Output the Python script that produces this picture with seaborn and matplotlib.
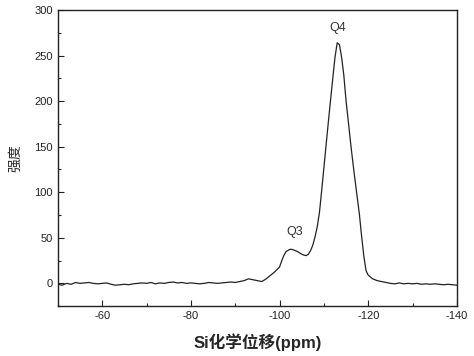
import matplotlib
matplotlib.use("Agg")
import matplotlib.pyplot as plt
import seaborn as sns
import pandas as pd
import numpy as np
from matplotlib.ticker import MultipleLocator

# chemical shift (ppm) and intensity
shift = [-50, -51, -52, -53, -54, -55, -56, -57, -58, -59,
         -60, -61, -62, -63, -64, -65, -66, -67, -68, -69,
         -70, -71, -72, -73, -74, -75, -76, -77, -78, -79,
         -80, -81, -82, -83, -84, -85, -86, -87, -88, -89,
         -90, -91, -92, -93, -94, -95, -96, -97, -98, -99,
         -100, -100.5, -101, -101.5, -102, -102.5, -103, -103.5, -104, -104.5,
         -105, -105.5, -106, -106.5, -107, -107.5, -108, -108.5, -109, -109.5,
         -110, -110.5, -111, -111.5, -112, -112.5, -113, -113.5, -114, -114.5,
         -115, -115.5, -116, -116.5, -117, -117.5, -118, -118.5, -119, -119.5,
         -120, -121, -122, -123, -124, -125, -126, -127, -128, -129,
         -130, -131, -132, -133, -134, -135, -136, -137, -138, -139, -140]
intensity = [-1, -2, 0, -1, 1, 0, 0.5, 1, 0, -0.5,
             0, 0.5, -1, -2, -1.5, -1, -1.5, -0.5, 0, 0.5,
             0, 1, -0.5, 0.5, 0, 1, 1.5, 0.5, 1, 0,
             0.5, 0, -0.5, 0, 1, 0.5, 0, 0.5, 1, 1.5,
             1, 2, 3, 5, 4, 3, 2, 5, 9, 13,
             18, 25, 31, 35, 36.5, 37.5, 37, 36, 35, 33.5,
             32, 31, 30.5, 32, 36, 42, 51, 62, 78, 102,
             127, 152, 177, 201, 225, 248, 264, 262, 248, 228,
             200, 178, 155, 134, 114, 95, 76, 52, 30, 14,
             9, 5, 3, 2, 1, 0, -0.5, 0.5, -0.5, 0,
             -0.5, 0, -1, -0.5, -1, -0.5, -1, -1.5, -1, -1.5, -2]

peak_names = ["Q3", "Q4"]
peak_pos = [-103.3, -113.1]
peak_top = [50, 274]

df = pd.DataFrame({"shift": shift, "intensity": intensity})

sns.set_style("ticks")
plt.rcParams["font.family"] = ["Liberation Sans", "Noto Sans CJK SC", "DejaVu Sans"]

fig = plt.figure(figsize=(4.74, 3.56), dpi=100)
ax = fig.add_axes([0.122, 0.140, 0.842, 0.832])

sns.lineplot(data=df, x="shift", y="intensity", ax=ax, color="#222222",
             linewidth=0.9, sort=False, estimator=None)

for name, px, pv in zip(peak_names, peak_pos, peak_top):
    ax.text(px, pv, name, ha="center", va="bottom", fontsize=9, color="#333333")

ax.set_xlim(-50, -140)
ax.set_ylim(-25, 300)
ax.xaxis.set_minor_locator(MultipleLocator(10))
ax.yaxis.set_major_locator(MultipleLocator(50))
ax.yaxis.set_minor_locator(MultipleLocator(25))
ax.set_xticks([-60, -80, -100, -120, -140])
ax.set_xticklabels(["-60", "-80", "-100", "-120", "-140"])
ax.tick_params(which="major", direction="in", length=4, width=0.8, labelsize=8,
               colors="#222222", top=False, right=False)
ax.tick_params(which="minor", direction="in", length=2, width=0.8,
               top=False, right=False)
for s in ax.spines.values():
    s.set_visible(True)
    s.set_linewidth(1.0)
    s.set_color("#222222")

ax.set_xlabel("Si化学位移(ppm)", fontsize=12, fontweight="bold", labelpad=9)
ax.set_ylabel("强度", fontsize=10)
ax.yaxis.set_label_coords(-0.09, 0.5)

fig.savefig("out.png", dpi=100)
